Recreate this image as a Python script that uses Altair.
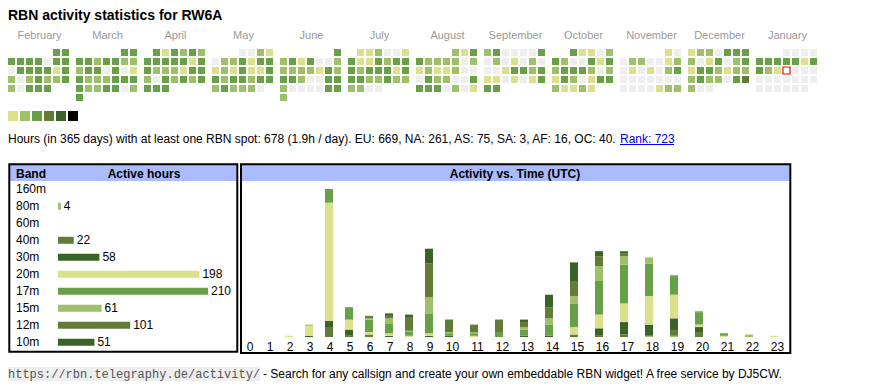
import datetime as dt
import altair as alt
import pandas as pd

# ---------------------------------------------------------------- data
TITLE = "RBN activity statistics for RW6A"
MONTHS = ["February", "March", "April", "May", "June", "July", "August",
          "September", "October", "November", "December", "January"]
MONTH_YM = [(2025, 2), (2025, 3), (2025, 4), (2025, 5), (2025, 6), (2025, 7),
            (2025, 8), (2025, 9), (2025, 10), (2025, 11), (2025, 12), (2026, 1)]
TODAY = (2026, 1, 15)

# daily activity level per month (0 = none, 1..5 = colour step)
FEB = [3, 3, 3, 3, 3, 3, 0, 3, 3, 0, 3, 3, 3, 3, 1, 3, 2, 0, 2, 3, 2, 2, 3, 2, 0, 3, 3, 3]
MAR = [3, 3, 3, 3, 2, 3, 3, 2, 2, 2, 3, 3, 0, 3, 0, 1, 3, 2, 2, 2, 3, 3, 3, 3, 2, 2, 3, 3, 0, 2, 3]
APR = [3, 1, 3, 2, 3, 2, 3, 3, 3, 3, 3, 1, 3, 3, 2, 2, 2, 1, 3, 3, 2, 0, 3, 2, 3, 2, 3, 3, 3, 3]
MAY = [0, 0, 2, 1, 0, 2, 2, 3, 1, 3, 3, 1, 2, 1, 3, 1, 1, 3, 3, 2, 3, 3, 2, 3, 3, 2, 3, 2, 2, 2, 0]
JUN = [3, 2, 3, 1, 3, 0, 0, 2, 2, 2, 2, 2, 1, 3, 2, 3, 3, 2, 0, 0, 3, 3, 2, 0, 0, 0, 0, 3, 3, 2]
JUL = [1, 1, 2, 0, 0, 1, 3, 1, 1, 3, 2, 3, 3, 3, 2, 3, 3, 3, 1, 3, 3, 3, 2, 2, 3, 2, 2, 2, 2, 0, 0]
AUG = [2, 1, 3, 3, 2, 2, 2, 2, 0, 2, 1, 2, 1, 1, 2, 0, 0, 0, 3, 2, 2, 0, 0, 3, 3, 3, 3, 0, 2, 0, 1]
SEP = [2, 3, 0, 0, 0, 0, 3, 0, 2, 0, 1, 0, 2, 0, 0, 0, 1, 3, 3, 2, 3, 1, 1, 0, 1, 0, 1, 3, 3, 3]
OCT = [3, 1, 1, 0, 2, 3, 2, 0, 0, 3, 1, 3, 2, 3, 3, 3, 2, 0, 2, 1, 3, 2, 0, 1, 3, 3, 2, 1, 1, 2, 1]
NOV = [1, 0, 0, 2, 2, 0, 0, 1, 2, 0, 1, 0, 1, 0, 2, 3, 0, 0, 0, 0, 0, 0, 0, 0, 0, 0, 0, 1, 2, 2]
DEC = [1, 2, 2, 0, 3, 3, 3, 2, 0, 1, 3, 0, 2, 3, 1, 3, 3, 2, 1, 2, 2, 2, 3, 2, 2, 0, 3, 4, 2, 0, 0]
JAN = [0, 0, 0, 0, 3, 3, 3, 3, 3, 1, 3, 3, 2, 1, 0, 0, 0, 0, 0, 0, 0, 0, 0, 0, 0, 0, 0, 0, 0, 0, 0]
DAY_LEVELS = [FEB, MAR, APR, MAY, JUN, JUL, AUG, SEP, OCT, NOV, DEC, JAN]

LEGEND_LEVELS = [1, 2, 3, 4, 5, 6]
PALETTE = ["#eeeeee", "#dbe08b", "#9dc068", "#67a046", "#647a37", "#3a6427", "#000000"]

SUMMARY = ("Hours (in 365 days) with at least one RBN spot: 678 (1.9h / day). "
           "EU: 669, NA: 261, AS: 75, SA: 3, AF: 16, OC: 40.")
RANK = "Rank: 723"

BANDS = ["160m", "80m", "60m", "40m", "30m", "20m", "17m", "15m", "12m", "10m"]
BAND_HOURS = [0, 4, 0, 22, 58, 198, 210, 61, 101, 51]
BAND_LEVEL = [1, 2, 3, 4, 5, 1, 3, 2, 4, 5]

HOURS = list(range(24))
HOURLY = {  # active hours per band and UTC hour
    "160m": [0] * 24,
    "80m":  [0, 0, 0, 0, 0, 0, 0, 0, 0, 0, 0, 0, 0, 0, 0, 0, 0, 0, 1, 1, 0, 0, 2, 0],
    "60m":  [0] * 24,
    "40m":  [0, 0, 0, 0, 8, 1, 1, 0, 0, 0, 0, 0, 0, 0, 0, 1, 1, 2, 0, 4, 4, 0, 0, 0],
    "30m":  [0, 0, 0, 1, 5, 5, 1, 1, 0, 1, 1, 0, 0, 1, 1, 1, 6, 10, 9, 10, 4, 0, 0, 0],
    "20m":  [0, 0, 1, 8, 95, 8, 2, 2, 1, 2, 0, 1, 0, 0, 0, 6, 11, 15, 23, 19, 2, 1, 0, 1],
    "17m":  [0, 0, 0, 0, 11, 10, 10, 8, 3, 16, 2, 2, 4, 5, 9, 19, 27, 31, 26, 15, 10, 2, 0, 0],
    "15m":  [0, 0, 0, 1, 0, 0, 1, 4, 1, 13, 1, 1, 0, 2, 5, 6, 12, 7, 5, 1, 1, 0, 0, 0],
    "12m":  [0, 0, 0, 0, 0, 0, 2, 2, 11, 27, 9, 6, 9, 4, 9, 12, 8, 2, 0, 0, 0, 0, 0, 0],
    "10m":  [0, 0, 0, 0, 0, 0, 0, 2, 2, 12, 1, 0, 1, 2, 10, 15, 4, 2, 0, 0, 0, 0, 0, 0],
}

FOOTER_URL = "https://rbn.telegraphy.de/activity/"
FOOTER_TEXT = " - Search for any callsign and create your own embeddable RBN widget! A free service by DJ5CW."

# ---------------------------------------------------------------- style / layout
FONT = "Liberation Sans, Arial, Helvetica, sans-serif"
MONO = "Liberation Mono, Courier New, monospace"
O = 8                       # page margin: page coords -> chart coords
def P(v):
    return v - O

CELL, PITCH, MONTH_STEP = 7, 9, 68
CAL_X0, CAL_Y0 = 8, 49
HEADER_BLUE = "#aabbff"

one = pd.DataFrame({"k": [0]})

def box(x1, x2, y1, y2, **kw):
    return alt.Chart(one).mark_rect(**kw).encode(
        x=alt.value(P(x1)), x2=alt.value(P(x2)), y=alt.value(P(y1)), y2=alt.value(P(y2)))

def label(text, x, y, **kw):
    return alt.Chart(pd.DataFrame({"t": [text]})).mark_text(font=FONT, **kw).encode(
        x=alt.value(P(x)), y=alt.value(P(y)), text="t:N")

layers = []

# title
layers.append(label(TITLE, 8, 20, align="left", baseline="alphabetic",
                    fontSize=14, fontWeight="bold", color="#000"))

# ---------------------------------------------------------------- calendar
slot_per_month = MONTH_STEP / PITCH
cal_x = alt.Scale(domain=[0, 100], range=[P(CAL_X0), P(CAL_X0) + 100 * PITCH], zero=False, nice=False)
cal_y = alt.Scale(domain=[0, 6], range=[P(CAL_Y0), P(CAL_Y0) + 6 * PITCH], zero=False, nice=False)

rows = []
for m, ((yr, mo), levels) in enumerate(zip(MONTH_YM, DAY_LEVELS)):
    first_wd = dt.date(yr, mo, 1).weekday()
    for d, lev in enumerate(levels, start=1):
        wd = dt.date(yr, mo, d).weekday()
        wk = (d - 1 + first_wd) // 7
        sx = m * slot_per_month + wd
        rows.append({"x": sx, "x2": sx + CELL / PITCH, "y": wk, "y2": wk + CELL / PITCH,
                     "color": PALETTE[lev],
                     "today": (yr, mo, d) == TODAY})
cal = pd.DataFrame(rows)

month_df = pd.DataFrame({"month": MONTHS,
                         "x": [m * slot_per_month + 3.5 for m in range(len(MONTHS))]})
layers.append(alt.Chart(month_df).mark_text(font=FONT, fontSize=11, color="#999999",
                                            baseline="alphabetic").encode(
    x=alt.X("x:Q", scale=cal_x, axis=None), y=alt.value(P(39)), text="month:N"))

layers.append(alt.Chart(cal).mark_rect(strokeWidth=0).encode(
    x=alt.X("x:Q", scale=cal_x, axis=None), x2="x2:Q",
    y=alt.Y("y:Q", scale=cal_y, axis=None), y2="y2:Q",
    color=alt.Color("color:N", scale=None)))

layers.append(alt.Chart(cal[cal["today"]]).mark_rect(fill="white", stroke="#ff0000", strokeWidth=1.2).encode(
    x=alt.X("x:Q", scale=cal_x, axis=None), x2="x2:Q",
    y=alt.Y("y:Q", scale=cal_y, axis=None), y2="y2:Q"))

# legend squares
leg = pd.DataFrame({"i": list(range(len(LEGEND_LEVELS))),
                    "color": [PALETTE[l] for l in LEGEND_LEVELS]})
leg["i2"] = leg["i"] + 10 / 12
leg_x = alt.Scale(domain=[0, 6], range=[P(8), P(8) + 72], zero=False, nice=False)
layers.append(alt.Chart(leg).mark_rect(strokeWidth=0).encode(
    x=alt.X("i:Q", scale=leg_x, axis=None), x2="i2:Q",
    y=alt.value(P(111)), y2=alt.value(P(121)),
    color=alt.Color("color:N", scale=None)))

# summary line
layers.append(label(SUMMARY, 8, 143, align="left", baseline="alphabetic", fontSize=12, color="#000"))
layers.append(label(RANK, 620, 143, align="left", baseline="alphabetic", fontSize=12, color="#0000ee"))
layers.append(alt.Chart(one).mark_rule(color="#0000ee", strokeWidth=1).encode(
    x=alt.value(P(620)), x2=alt.value(P(674)), y=alt.value(P(144.5))))

# ---------------------------------------------------------------- band table
layers.append(box(10, 236.5, 165, 181, fill=HEADER_BLUE, strokeWidth=0))
layers.append(label("Band", 16, 173.5, align="left", baseline="middle", fontSize=12, fontWeight="bold"))
layers.append(label("Active hours", 144, 173.5, align="center", baseline="middle", fontSize=12, fontWeight="bold"))

band_df = pd.DataFrame({"band": BANDS, "hours": BAND_HOURS,
                        "color": [PALETTE[l] for l in BAND_LEVEL]})
band_y = alt.Scale(domain=BANDS, range=[P(180.8), P(180.8) + 17 * len(BANDS)], paddingInner=0, paddingOuter=0)
band_x = alt.Scale(domain=[0, 210], range=[P(58), P(208)], nice=False)

layers.append(alt.Chart(band_df).mark_text(font=FONT, fontSize=12, align="left", baseline="middle", color="#000").encode(
    x=alt.value(P(16)), y=alt.Y("band:N", scale=band_y, axis=None), text="band:N"))
bars_df = band_df[band_df["hours"] > 0]
layers.append(alt.Chart(bars_df).mark_bar(size=7).encode(
    x=alt.X("hours:Q", scale=band_x, axis=None),
    y=alt.Y("band:N", scale=band_y, axis=None),
    color=alt.Color("color:N", scale=None)))
layers.append(alt.Chart(bars_df).mark_text(font=FONT, fontSize=12, align="left", baseline="middle", dx=3, color="#000").encode(
    x=alt.X("hours:Q", scale=band_x, axis=None),
    y=alt.Y("band:N", scale=band_y, axis=None), text="hours:Q"))

layers.append(box(9.3, 237.3, 164.3, 351.7, fill="white", fillOpacity=0, stroke="#000", strokeWidth=2))

# ---------------------------------------------------------------- hourly chart
layers.append(box(242, 789.5, 165, 181, fill=HEADER_BLUE, strokeWidth=0))
layers.append(label("Activity vs. Time (UTC)", 515, 173.5, align="center", baseline="middle",
                    fontSize=12, fontWeight="bold"))

# table-like columns: width grows with the number of digits of the hour label
col_w = [20 if h < 10 else 25 for h in HOURS]
col_left = [sum(col_w[:h]) for h in HOURS]
TABLE_X0 = 240
hour_x = alt.Scale(domain=[0, 550], range=[P(TABLE_X0), P(TABLE_X0) + 550], zero=False, nice=False)

seg = []
for h in HOURS:
    cum = 0
    for b, lev in zip(BANDS, BAND_LEVEL):
        v = HOURLY[b][h]
        if v > 0:
            seg.append({"hour": h, "band": b, "x": col_left[h] + 5, "x2": col_left[h] + 13,
                        "y0": cum, "y1": cum + v, "color": PALETTE[lev]})
            cum += v
seg_df = pd.DataFrame(seg)
max_total = max(sum(HOURLY[b][h] for b in BANDS) for h in HOURS)
BASE_Y, MAX_H = 337, 148
hour_y = alt.Scale(domain=[0, max_total], range=[P(BASE_Y), P(BASE_Y - MAX_H)], zero=False, nice=False)

layers.append(alt.Chart(seg_df).mark_rect(strokeWidth=0).encode(
    x=alt.X("x:Q", scale=hour_x, axis=None), x2="x2:Q",
    y=alt.Y("y0:Q", scale=hour_y, axis=None), y2="y1:Q",
    color=alt.Color("color:N", scale=None)))

hl_df = pd.DataFrame({"hour": HOURS, "x": [col_left[h] + col_w[h] / 2 for h in HOURS]})
layers.append(alt.Chart(hl_df).mark_text(font=FONT, fontSize=12, baseline="middle", color="#000").encode(
    x=alt.X("x:Q", scale=hour_x, axis=None), y=alt.value(P(346.5)), text="hour:N"))

layers.append(box(241, 790.3, 164.3, 352.9, fill="white", fillOpacity=0, stroke="#000", strokeWidth=2))

# ---------------------------------------------------------------- footer
layers.append(box(8, 260, 367, 381, fill="#eeeeee", strokeWidth=0))
layers.append(alt.Chart(pd.DataFrame({"t": [FOOTER_URL]})).mark_text(
    font=MONO, fontSize=12, align="left", baseline="middle", color="#555555").encode(
    x=alt.value(P(8)), y=alt.value(P(374)), text="t:N"))
layers.append(label(FOOTER_TEXT, 263, 374, align="left", baseline="middle", fontSize=12, color="#000"))

chart = alt.layer(*layers).resolve_scale(
    x="independent", y="independent", color="independent"
).properties(
    width=854, height=374, padding=0,
    autosize=alt.AutoSizeParams(type="none"),
    background="white",
).configure_view(strokeWidth=0)

chart.save("out.html", embed_options={"renderer": "svg", "actions": False})
